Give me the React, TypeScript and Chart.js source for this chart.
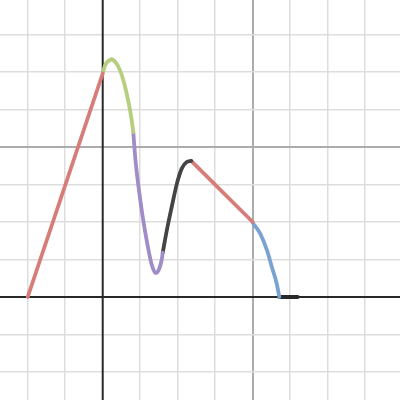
import React, { useEffect, useRef } from "react";
import { Chart, registerables } from "chart.js";

Chart.register(...registerables);

const redLine1X = [-2, 0];
const redLine1Y = [0, 5.96];

const greenX = [0, 0.064, 0.13, 0.197, 0.23, 0.35, 0.46, 0.55, 0.64, 0.72, 0.77, 0.815];
const greenY = [5.96, 6.18, 6.28, 6.32, 6.34, 6.25, 6.05, 5.78, 5.42, 5.03, 4.73, 4.4];

const purpleX = [0.815, 0.87, 0.95, 1.06, 1.18, 1.31, 1.42, 1.51, 1.58, 1.6];
const purpleY = [4.4, 3.69, 2.98, 2.18, 1.47, 0.85, 0.64, 0.76, 1.03, 1.18];

const blackX = [1.6, 1.71, 1.84, 1.98, 2.11, 2.24, 2.36];
const blackY = [1.18, 1.78, 2.4, 3.03, 3.43, 3.6, 3.63];

const redLine2X = [2.36, 4];
const redLine2Y = [3.63, 2];

const blueX = [4, 4.2, 4.38, 4.51, 4.64, 4.71];
const blueY = [1.98, 1.69, 1.25, 0.8, 0.36, 0];

const flatX = [4.71, 5.2];
const flatY = [0, 0];

const X_MIN = -2.739;
const X_MAX = 7.928;
const Y_MIN = -2.747;
const Y_MAX = 7.92;

function pts(xs: number[], ys: number[]) {
  return xs.map((x, i) => ({ x, y: ys[i] }));
}

function intTicks(scale: any) {
  const t: { value: number }[] = [];
  for (let v = Math.ceil(scale.min); v <= Math.floor(scale.max); v++) t.push({ value: v });
  scale.ticks = t;
}

function gridColor(ctx: any) {
  const v = ctx.tick ? ctx.tick.value : 1;
  if (v === 0) return "rgba(0,0,0,0)";
  if (v % 4 === 0) return "rgb(172,172,172)";
  return "rgb(221,221,221)";
}
function gridWidth(ctx: any) {
  const v = ctx.tick ? ctx.tick.value : 1;
  if (v % 4 === 0) return 2;
  return 1.5;
}

const axesPlugin = {
  id: "axesPlugin",
  beforeDatasetsDraw(chart: any) {
    const { ctx, scales, chartArea } = chart;
    const x0 = scales.x.getPixelForValue(0);
    const y0 = scales.y.getPixelForValue(0);
    ctx.save();
    ctx.strokeStyle = "rgb(40,40,40)";
    ctx.lineWidth = 2;
    ctx.beginPath();
    ctx.moveTo(x0, chartArea.top);
    ctx.lineTo(x0, chartArea.bottom);
    ctx.moveTo(chartArea.left, y0);
    ctx.lineTo(chartArea.right, y0);
    ctx.stroke();
    ctx.restore();
  },
};

export default function App() {
  const ref = useRef<HTMLCanvasElement>(null);
  useEffect(() => {
    document.body.style.margin = "0";
    const mk = (xs: number[], ys: number[], color: string, smooth: boolean) => ({
      data: pts(xs, ys),
      showLine: true,
      borderColor: color,
      backgroundColor: color,
      borderWidth: 3.8,
      pointRadius: 0,
      borderCapStyle: "round" as const,
      borderJoinStyle: "round" as const,
      cubicInterpolationMode: smooth ? ("monotone" as const) : ("default" as const),
      tension: 0,
    });
    const chart = new Chart(ref.current!, {
      type: "scatter",
      data: {
        datasets: [
          mk(redLine1X, redLine1Y, "rgb(214,125,121)", false),
          mk(greenX, greenY, "rgb(182,207,126)", true),
          mk(purpleX, purpleY, "rgb(160,140,198)", true),
          mk(blackX, blackY, "rgb(68,68,68)", true),
          mk(redLine2X, redLine2Y, "rgb(214,125,121)", false),
          mk(blueX, blueY, "rgb(122,162,210)", true),
          mk(flatX, flatY, "rgb(40,40,40)", false),
        ],
      },
      options: {
        animation: false,
        responsive: false,
        maintainAspectRatio: false,
        layout: { padding: 0 },
        plugins: { legend: { display: false }, tooltip: { enabled: false } },
        scales: {
          x: {
            type: "linear",
            min: X_MIN,
            max: X_MAX,
            afterBuildTicks: intTicks,
            ticks: { display: false },
            border: { display: false },
            grid: { color: gridColor, lineWidth: gridWidth, drawTicks: false },
          },
          y: {
            type: "linear",
            min: Y_MIN,
            max: Y_MAX,
            afterBuildTicks: intTicks,
            ticks: { display: false },
            border: { display: false },
            grid: { color: gridColor, lineWidth: gridWidth, drawTicks: false },
          },
        },
      },
      plugins: [axesPlugin],
    });
    return () => chart.destroy();
  }, []);
  return (
    <div style={{ position: "absolute", left: 0, top: 0, width: 400, height: 400, background: "#fff" }}>
      <canvas ref={ref} width={400} height={400} style={{ width: 400, height: 400, display: "block" }} />
    </div>
  );
}
